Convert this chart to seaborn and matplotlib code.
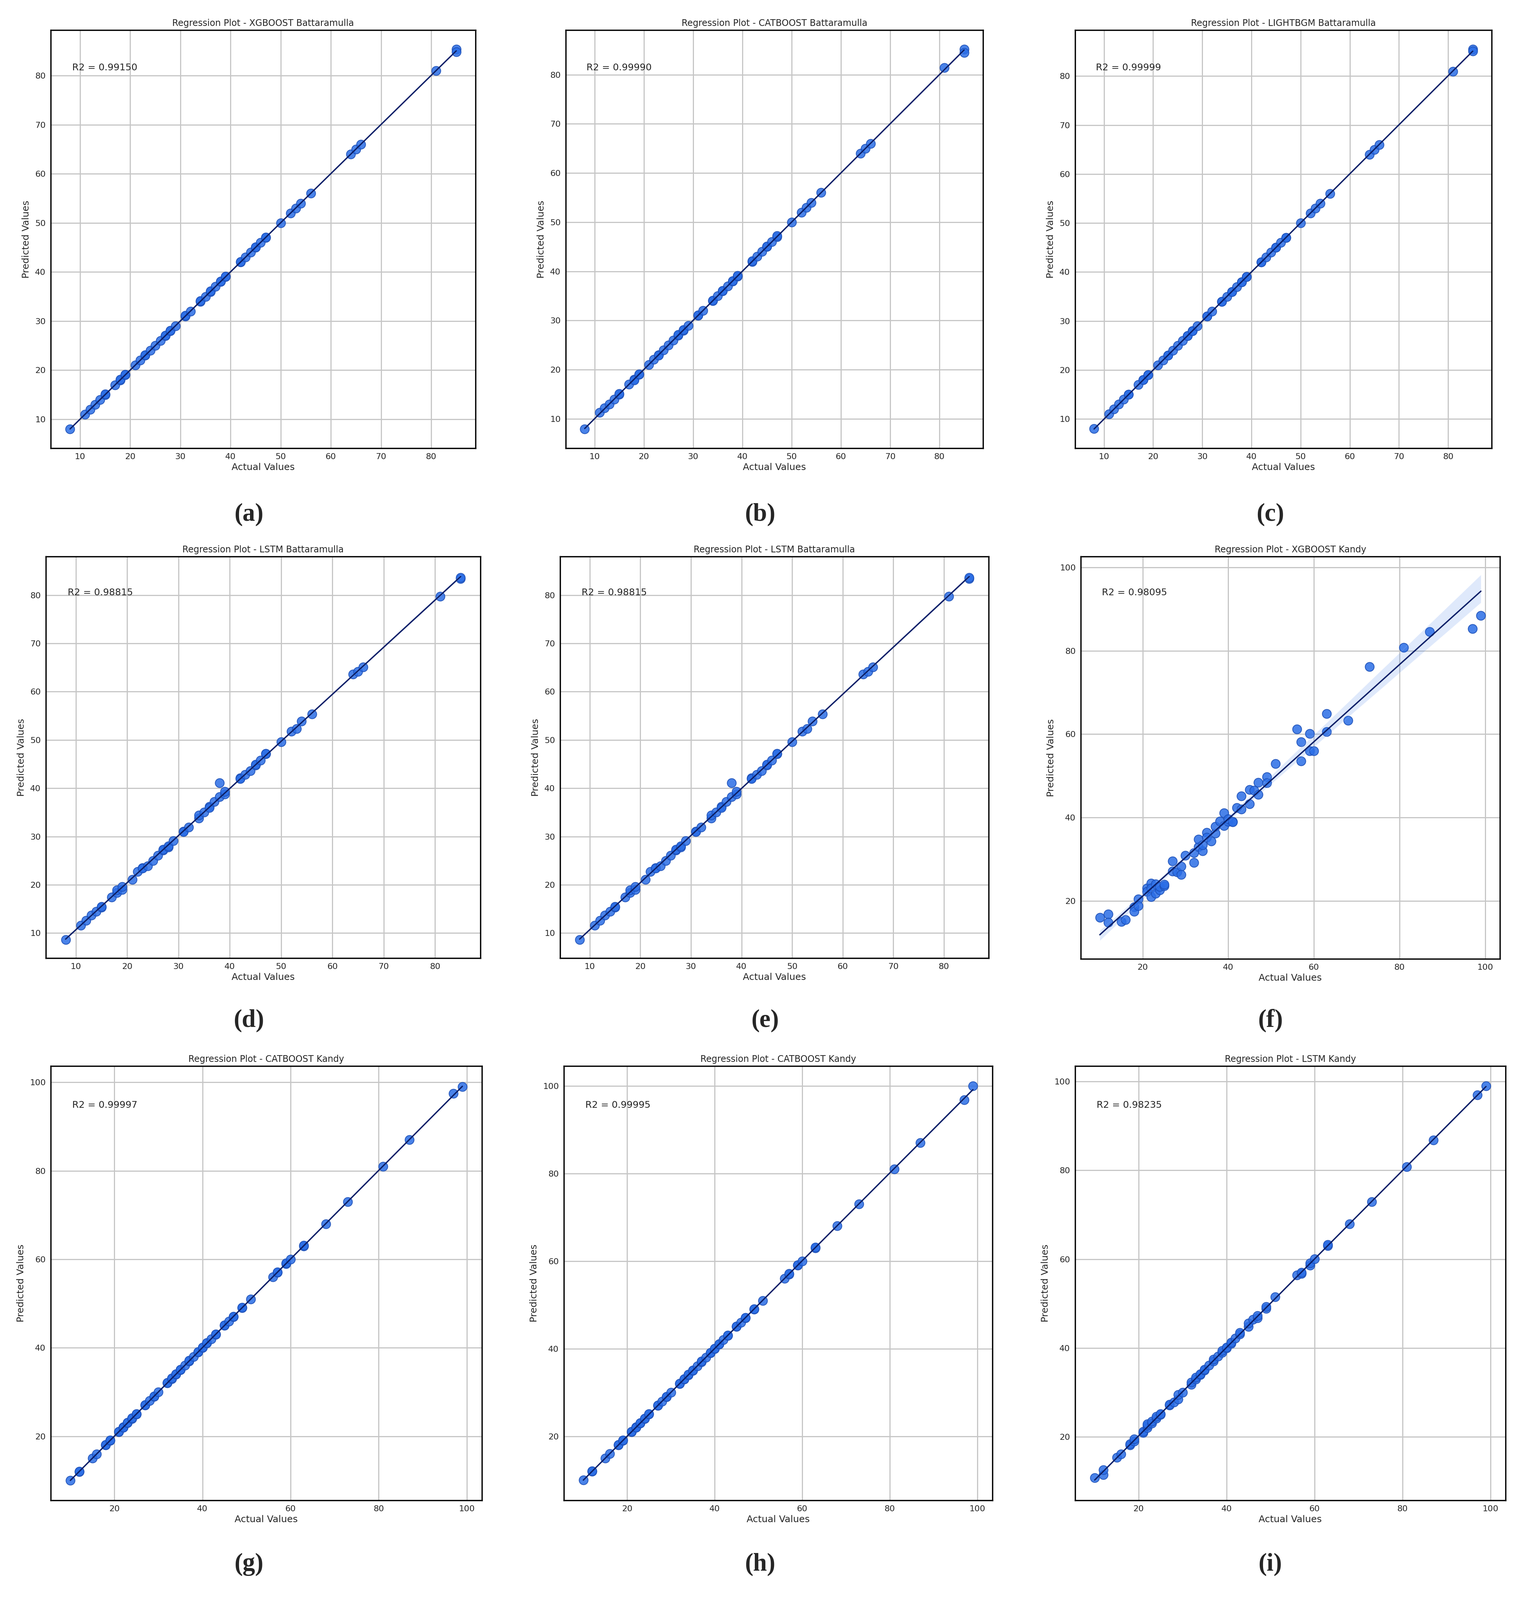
import numpy as np
import pandas as pd
import seaborn as sns
import matplotlib as mpl
import matplotlib.pyplot as plt
from matplotlib.ticker import MultipleLocator

# ---------------- data ----------------
bat_actual = [8, 11, 12, 13, 14, 15, 15, 17, 18, 18, 19, 19, 21, 22, 23, 23, 24, 25, 26, 27,
              27, 28, 28, 29, 31, 31, 32, 34, 34, 35, 36, 36, 37, 38, 38, 39, 39, 42, 42, 43,
              44, 45, 45, 46, 47, 47, 50, 52, 53, 54, 56, 64, 65, 66, 81, 85, 85]

xgb_bat_pred = [8.0, 11.0, 12.0, 13.0, 14.0, 15.0, 15.1, 17.0, 18.0, 18.1, 19.0, 19.1, 21.0, 22.0,
                23.0, 23.1, 24.0, 25.0, 26.0, 27.0, 27.1, 28.0, 28.1, 29.0, 31.0, 31.1, 32.0, 34.0,
                34.1, 35.0, 36.0, 36.1, 37.0, 38.0, 38.1, 39.0, 39.1, 42.0, 42.1, 43.0, 44.0, 45.0,
                45.1, 46.0, 47.0, 47.1, 50.0, 52.0, 53.0, 54.0, 56.0, 64.0, 65.0, 66.0, 81.0, 85.4,
                84.8]

cat_bat_pred = [7.9, 11.3, 12.2, 13.0, 14.0, 15.0, 15.1, 17.0, 18.0, 17.9, 19.0, 19.1, 21.0, 22.1,
                23.0, 22.9, 24.0, 25.0, 26.0, 27.0, 27.1, 28.0, 28.1, 29.0, 31.0, 31.1, 32.0, 34.0,
                34.1, 35.0, 36.0, 36.1, 37.0, 38.0, 38.1, 39.0, 39.1, 42.0, 42.1, 43.0, 44.0, 45.0,
                45.1, 46.0, 47.0, 47.2, 50.0, 52.0, 53.0, 54.0, 56.0, 64.0, 65.0, 66.0, 81.4, 85.2,
                84.5]

lgb_bat_pred = [8.0, 11.0, 12.0, 13.0, 14.0, 15.0, 15.0, 17.0, 18.0, 18.0, 19.0, 19.0, 21.0, 22.0,
                23.0, 23.0, 24.0, 25.0, 26.0, 27.0, 27.0, 28.0, 28.0, 29.0, 31.0, 31.0, 32.0, 34.0,
                34.0, 35.0, 36.0, 36.0, 37.0, 38.0, 38.0, 39.0, 39.0, 42.0, 42.0, 43.0, 44.0, 45.0,
                45.0, 46.0, 47.0, 47.0, 50.0, 52.0, 53.0, 54.0, 56.0, 64.0, 65.0, 66.0, 80.9, 85.5,
                85.1]

lstm_bat_pred = [8.6, 11.6, 12.6, 13.7, 14.5, 15.3, 15.5, 17.4, 18.4, 18.9, 19.0, 19.6, 21.1, 22.7,
                 23.5, 23.4, 23.9, 25.0, 26.1, 27.2, 27.3, 27.8, 28.0, 29.1, 31.1, 31.0, 31.9, 33.8,
                 34.4, 35.0, 36.2, 36.0, 37.2, 38.2, 41.1, 38.8, 39.3, 42.1, 42.0, 42.8, 43.6, 44.8,
                 44.9, 45.8, 47.1, 47.2, 49.6, 51.8, 52.3, 53.9, 55.4, 63.6, 64.2, 65.1, 79.7, 83.4,
                 83.6]

kan_actual = [10, 12, 12, 15, 16, 18, 18, 19, 19, 21, 21, 22, 22, 22, 23, 23, 24, 24, 25, 25,
              27, 27, 28, 29, 29, 30, 32, 32, 33, 33, 34, 34, 35, 35, 36, 37, 37, 38, 39, 39,
              40, 40, 41, 41, 42, 43, 43, 45, 45, 46, 47, 47, 49, 49, 51, 56, 57, 57, 59, 59,
              60, 63, 63, 68, 73, 81, 87, 97, 99]

xgb_kan_pred = [16.0, 16.8, 14.8, 15.0, 15.5, 18.5, 17.4, 20.4, 18.8, 23.0, 22.2, 24.2, 21.0, 23.0,
                24.0, 21.8, 22.6, 23.4, 23.6, 23.9, 29.5, 27.1, 26.9, 28.3, 26.3, 30.9, 29.2, 31.5,
                33.0, 34.8, 32.0, 33.4, 36.4, 35.2, 34.3, 36.2, 37.8, 39.1, 41.1, 38.0, 39.0, 39.6,
                39.0, 38.9, 42.3, 45.1, 42.0, 46.7, 43.2, 46.5, 48.4, 45.5, 49.7, 48.3, 52.9, 61.2,
                58.1, 53.5, 60.1, 56.0, 56.0, 64.9, 60.6, 63.3, 76.2, 80.8, 84.6, 85.3, 88.4]

cat_kan_pred = [10.0, 12.0, 12.1, 15.0, 16.0, 18.0, 18.1, 19.0, 19.1, 21.0, 21.1, 22.0, 22.1, 22.0,
                23.0, 23.1, 24.0, 24.1, 25.0, 25.1, 27.0, 27.1, 28.0, 29.0, 29.1, 30.0, 32.0, 32.1,
                33.0, 33.1, 34.0, 34.1, 35.0, 35.1, 36.0, 37.0, 37.1, 38.0, 39.0, 39.1, 40.0, 40.1,
                41.0, 41.1, 42.0, 43.0, 43.1, 45.0, 45.1, 46.0, 47.0, 47.1, 49.0, 49.1, 51.0, 56.0,
                57.0, 57.1, 59.0, 59.1, 60.0, 63.0, 63.1, 68.0, 73.0, 81.0, 87.0, 97.5, 99.0]

cat_kan_pred_h = [10.0, 12.0, 12.1, 15.0, 16.0, 18.0, 18.1, 19.0, 19.1, 21.0, 21.1, 22.0, 22.1, 22.0,
                  23.0, 23.1, 24.0, 24.1, 25.0, 25.1, 27.0, 27.1, 28.0, 29.0, 29.1, 30.0, 32.0, 32.1,
                  33.0, 33.1, 34.0, 34.1, 35.0, 35.1, 36.0, 37.0, 37.1, 38.0, 39.0, 39.1, 40.0, 40.1,
                  41.0, 41.1, 42.0, 43.0, 43.1, 45.0, 45.1, 46.0, 47.0, 47.1, 49.0, 49.1, 51.0, 56.0,
                  57.0, 57.1, 59.0, 59.1, 60.0, 63.0, 63.1, 68.0, 73.0, 81.0, 87.0, 96.8, 100.0]

lstm_kan_pred = [10.8, 11.5, 12.6, 15.4, 16.1, 18.2, 18.4, 19.0, 19.5, 21.0, 21.2, 22.1, 22.6, 22.9,
                 23.1, 23.5, 24.2, 24.6, 25.0, 25.2, 27.1, 27.3, 27.8, 28.5, 29.5, 30.0, 31.8, 32.3,
                 33.0, 33.4, 34.0, 34.2, 35.0, 35.2, 36.1, 37.0, 37.5, 38.1, 39.0, 39.4, 40.0, 40.2,
                 41.0, 41.3, 42.2, 43.1, 43.5, 44.8, 45.6, 46.4, 46.8, 47.3, 48.9, 49.3, 51.5, 56.4,
                 56.8, 57.0, 58.6, 59.1, 60.1, 63.0, 63.3, 67.9, 72.9, 80.8, 86.8, 97.0, 99.0]

titles = ["Regression Plot - XGBOOST Battaramulla", "Regression Plot - CATBOOST Battaramulla",
          "Regression Plot - LIGHTBGM Battaramulla", "Regression Plot - LSTM Battaramulla",
          "Regression Plot - LSTM Battaramulla", "Regression Plot - XGBOOST Kandy",
          "Regression Plot - CATBOOST Kandy", "Regression Plot - CATBOOST Kandy",
          "Regression Plot - LSTM Kandy"]
r2_labels = ["0.99150", "0.99990", "0.99999", "0.98815", "0.98815",
             "0.98095", "0.99997", "0.99995", "0.98235"]
panel_letters = ["(a)", "(b)", "(c)", "(d)", "(e)", "(f)", "(g)", "(h)", "(i)"]

series = [(bat_actual, xgb_bat_pred), (bat_actual, cat_bat_pred), (bat_actual, lgb_bat_pred),
          (bat_actual, lstm_bat_pred), (bat_actual, lstm_bat_pred), (kan_actual, xgb_kan_pred),
          (kan_actual, cat_kan_pred), (kan_actual, cat_kan_pred_h), (kan_actual, lstm_kan_pred)]

# ---------------- style ----------------
sns.set_style("whitegrid")
mpl.rcParams["axes.edgecolor"] = "black"
mpl.rcParams["axes.linewidth"] = 2.5
mpl.rcParams["grid.color"] = "#c6c6c6"
mpl.rcParams["grid.linewidth"] = 2.2

W, H = 4055, 4255
fig = plt.figure(figsize=(W / 100, H / 100), dpi=100)

# axes boxes in pixels: left, right, top, bottom
boxes = [(135, 1265, 80, 1192), (1505, 2615, 80, 1192), (2860, 3968, 80, 1192),
         (122, 1278, 1480, 2548), (1490, 2630, 1480, 2548), (2875, 3990, 1480, 2550),
         (135, 1282, 2835, 3990), (1500, 2640, 2835, 3990), (2860, 4005, 2835, 3990)]
label_pos = [(662, 1368), (2022, 1368), (3379, 1368),
             (662, 2714), (2035, 2714), (3379, 2714),
             (662, 4160), (2022, 4160), (3379, 4160)]

point_color = "#2a6de6"
edge_color = "#1b4fb8"
line_color = "#0b1f68"

for i in range(9):
    l, r, t, b = boxes[i]
    ax = fig.add_axes([l / W, 1 - b / H, (r - l) / W, (b - t) / H])
    x, y = series[i]
    df = pd.DataFrame({"Actual Values": x, "Predicted Values": y})
    # points + light blue confidence band
    sns.regplot(data=df, x="Actual Values", y="Predicted Values", ax=ax,
                color=point_color, seed=0,
                scatter_kws={"s": 290, "alpha": 0.85, "edgecolor": edge_color, "linewidths": 1.6},
                line_kws={"linewidth": 0})
    # dark fit line on top
    sns.regplot(data=df, x="Actual Values", y="Predicted Values", ax=ax,
                scatter=False, ci=None, color=line_color,
                line_kws={"linewidth": 2.6})
    step = 10 if i < 5 else 20
    ax.xaxis.set_major_locator(MultipleLocator(step))
    ax.yaxis.set_major_locator(MultipleLocator(step))
    ax.tick_params(labelsize=16, pad=6)
    ax.set_title(titles[i], fontsize=17, pad=8)
    ax.set_xlabel("Actual Values", fontsize=18, labelpad=4)
    ax.set_ylabel("Predicted Values", fontsize=18, labelpad=8)
    ax.text(0.05, 0.91, "R2 = " + r2_labels[i], transform=ax.transAxes,
            fontsize=18, va="center", ha="left")
    for s in ax.spines.values():
        s.set_color("black")
        s.set_linewidth(2.5)

    lx, ly = label_pos[i]
    fig.text(lx / W, 1 - ly / H, panel_letters[i], ha="center", va="center",
             fontsize=48, fontweight="bold", family="Liberation Serif")

fig.savefig("out.png", dpi=100, facecolor="white")
